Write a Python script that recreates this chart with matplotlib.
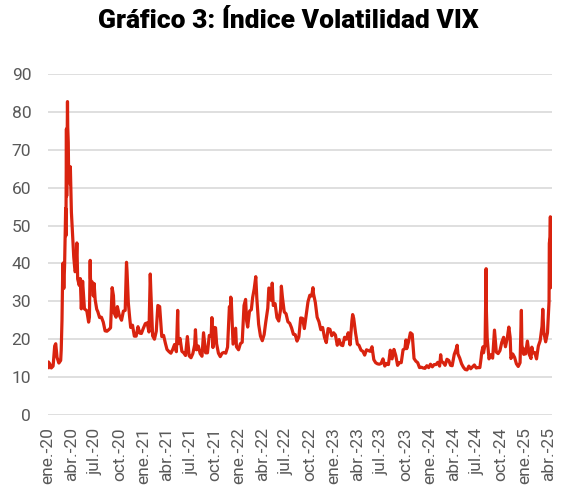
import numpy as np
import pandas as pd
import matplotlib
matplotlib.use("Agg")
import matplotlib.pyplot as plt

# VIX closes (irregular dates, spikes kept)
fechas = [
    "2020-01-02", "2020-01-03", "2020-01-08", "2020-01-14", "2020-01-21", "2020-01-27", "2020-01-31",
    "2020-02-05", "2020-02-12", "2020-02-19", "2020-02-21", "2020-02-24", "2020-02-27", "2020-02-28",
    "2020-03-02", "2020-03-05", "2020-03-09", "2020-03-10", "2020-03-12", "2020-03-13", "2020-03-16",
    "2020-03-17", "2020-03-19", "2020-03-20", "2020-03-24", "2020-03-26", "2020-03-27", "2020-03-31",
    "2020-04-02", "2020-04-06", "2020-04-09", "2020-04-14", "2020-04-17", "2020-04-21", "2020-04-24",
    "2020-04-30", "2020-05-04", "2020-05-08", "2020-05-13", "2020-05-20", "2020-05-29", "2020-06-05",
    "2020-06-08", "2020-06-11", "2020-06-12", "2020-06-16", "2020-06-19", "2020-06-23", "2020-06-26",
    "2020-06-30", "2020-07-06", "2020-07-10", "2020-07-17", "2020-07-24", "2020-07-31", "2020-08-07",
    "2020-08-14", "2020-08-21", "2020-08-28", "2020-09-03", "2020-09-08", "2020-09-11", "2020-09-18",
    "2020-09-23", "2020-09-30", "2020-10-09", "2020-10-16", "2020-10-23", "2020-10-28", "2020-10-30",
    "2020-11-04", "2020-11-09", "2020-11-13", "2020-11-20", "2020-11-27", "2020-12-04", "2020-12-11",
    "2020-12-18", "2020-12-24", "2020-12-31",
    "2021-01-08", "2021-01-15", "2021-01-22", "2021-01-27", "2021-01-29", "2021-02-05", "2021-02-12",
    "2021-02-19", "2021-02-25", "2021-03-04", "2021-03-12", "2021-03-19", "2021-03-26", "2021-04-01",
    "2021-04-09", "2021-04-16", "2021-04-23", "2021-04-30", "2021-05-07", "2021-05-12", "2021-05-14",
    "2021-05-21", "2021-05-28", "2021-06-04", "2021-06-11", "2021-06-18", "2021-06-25", "2021-07-02",
    "2021-07-09", "2021-07-16", "2021-07-19", "2021-07-23", "2021-07-30", "2021-08-06", "2021-08-13",
    "2021-08-19", "2021-08-27", "2021-09-03", "2021-09-10", "2021-09-17", "2021-09-20", "2021-09-24",
    "2021-09-30", "2021-10-04", "2021-10-08", "2021-10-15", "2021-10-22", "2021-10-29", "2021-11-05",
    "2021-11-12", "2021-11-19", "2021-11-26", "2021-11-30", "2021-12-01", "2021-12-03", "2021-12-10",
    "2021-12-17", "2021-12-20", "2021-12-23", "2021-12-31",
    "2022-01-07", "2022-01-14", "2022-01-21", "2022-01-27", "2022-01-31", "2022-02-04", "2022-02-11",
    "2022-02-18", "2022-02-23", "2022-03-01", "2022-03-07", "2022-03-11", "2022-03-18", "2022-03-25",
    "2022-04-01", "2022-04-08", "2022-04-14", "2022-04-22", "2022-04-26", "2022-04-29", "2022-05-06",
    "2022-05-09", "2022-05-13", "2022-05-20", "2022-05-27", "2022-06-03", "2022-06-10", "2022-06-13",
    "2022-06-17", "2022-06-24", "2022-07-01", "2022-07-08", "2022-07-15", "2022-07-22", "2022-07-29",
    "2022-08-05", "2022-08-12", "2022-08-19", "2022-08-26", "2022-09-02", "2022-09-09", "2022-09-16",
    "2022-09-23", "2022-09-30", "2022-10-07", "2022-10-12", "2022-10-14", "2022-10-21", "2022-10-28",
    "2022-11-04", "2022-11-11", "2022-11-18", "2022-11-25", "2022-12-02", "2022-12-09", "2022-12-16",
    "2022-12-23", "2022-12-30",
    "2023-01-06", "2023-01-13", "2023-01-20", "2023-01-27", "2023-02-03", "2023-02-10", "2023-02-17",
    "2023-02-24", "2023-03-03", "2023-03-10", "2023-03-13", "2023-03-17", "2023-03-24", "2023-03-31",
    "2023-04-06", "2023-04-14", "2023-04-21", "2023-04-28", "2023-05-05", "2023-05-12", "2023-05-19",
    "2023-05-26", "2023-06-02", "2023-06-09", "2023-06-16", "2023-06-23", "2023-06-30", "2023-07-07",
    "2023-07-14", "2023-07-21", "2023-07-28", "2023-08-04", "2023-08-11", "2023-08-18", "2023-08-25",
    "2023-09-01", "2023-09-08", "2023-09-15", "2023-09-22", "2023-09-29", "2023-10-03", "2023-10-06",
    "2023-10-13", "2023-10-20", "2023-10-27", "2023-11-03", "2023-11-10", "2023-11-17", "2023-11-24",
    "2023-12-01", "2023-12-08", "2023-12-15", "2023-12-22", "2023-12-29",
    "2024-01-05", "2024-01-12", "2024-01-19", "2024-01-26", "2024-02-02", "2024-02-09", "2024-02-13",
    "2024-02-16", "2024-02-23", "2024-03-01", "2024-03-08", "2024-03-15", "2024-03-22", "2024-03-28",
    "2024-04-05", "2024-04-12", "2024-04-16", "2024-04-19", "2024-04-26", "2024-05-03", "2024-05-10",
    "2024-05-17", "2024-05-24", "2024-05-31", "2024-06-07", "2024-06-14", "2024-06-21", "2024-06-28",
    "2024-07-05", "2024-07-12", "2024-07-17", "2024-07-19", "2024-07-24", "2024-07-26", "2024-08-01",
    "2024-08-02", "2024-08-05", "2024-08-06", "2024-08-09", "2024-08-16", "2024-08-23", "2024-08-30",
    "2024-09-06", "2024-09-13", "2024-09-20", "2024-09-27", "2024-10-04", "2024-10-11", "2024-10-18",
    "2024-10-25", "2024-10-31", "2024-11-05", "2024-11-08", "2024-11-15", "2024-11-22", "2024-11-29",
    "2024-12-06", "2024-12-13", "2024-12-18", "2024-12-20", "2024-12-27", "2024-12-31",
    "2025-01-03", "2025-01-10", "2025-01-17", "2025-01-24", "2025-01-27", "2025-01-31", "2025-02-07",
    "2025-02-14", "2025-02-21", "2025-02-28", "2025-03-07", "2025-03-10", "2025-03-14", "2025-03-21",
    "2025-03-28", "2025-04-03", "2025-04-04", "2025-04-07", "2025-04-08", "2025-04-09", "2025-04-10",
    "2025-04-11",
]
vix = [
    12.5, 14.0, 13.5, 12.4, 12.9, 18.2, 18.8,
    15.2, 13.7, 14.4, 17.1, 25.0, 39.2, 40.1,
    33.4, 39.6, 54.5, 47.3, 75.5, 57.8, 82.7,
    75.9, 72.0, 66.0, 61.7, 61.0, 65.5, 53.5,
    50.9, 45.2, 41.7, 37.8, 38.2, 45.4, 35.9,
    34.2, 36.0, 28.0, 35.3, 28.0, 27.5, 24.5,
    25.8, 40.8, 36.1, 33.7, 35.1, 31.4, 34.7,
    30.4, 27.9, 27.3, 25.7, 25.8, 24.5, 22.2,
    22.1, 22.5, 23.0, 33.6, 31.5, 26.9, 25.8,
    28.6, 26.4, 25.0, 27.4, 27.6, 40.3, 38.0,
    29.6, 25.8, 23.1, 23.7, 20.8, 20.8, 23.3,
    21.6, 21.5, 22.8,
    24.1, 24.3, 21.9, 37.2, 33.1, 20.9, 20.0,
    22.1, 28.9, 28.6, 20.7, 21.0, 18.9, 17.3,
    16.7, 16.3, 17.3, 18.6, 16.7, 27.6, 18.8,
    20.2, 16.8, 16.4, 15.7, 20.7, 15.6, 15.1,
    16.2, 18.5, 22.5, 17.2, 18.2, 16.2, 15.5,
    21.7, 16.4, 16.4, 21.0, 20.8, 25.7, 17.8,
    23.1, 23.0, 18.8, 16.3, 15.4, 16.3, 16.5,
    16.3, 17.9, 28.6, 27.2, 31.1, 30.7, 18.7,
    21.6, 22.9, 18.0, 17.2,
    18.8, 19.2, 28.9, 30.5, 24.8, 23.2, 27.4,
    27.8, 31.0, 33.3, 36.5, 30.8, 23.9, 20.8,
    19.6, 21.2, 24.4, 28.2, 33.5, 33.4, 30.2,
    34.8, 28.9, 29.4, 25.7, 24.8, 27.8, 34.0,
    31.1, 27.2, 26.7, 24.6, 24.2, 23.0, 21.3,
    21.2, 19.5, 20.6, 25.6, 25.5, 22.8, 26.3,
    29.9, 31.6, 31.4, 33.6, 32.0, 29.7, 25.8,
    24.6, 22.5, 23.1, 20.5, 19.1, 22.8, 22.6,
    20.9, 21.7,
    21.1, 18.4, 19.9, 18.5, 18.3, 20.5, 20.0,
    21.7, 18.5, 24.8, 26.5, 25.5, 21.7, 18.7,
    18.4, 17.1, 16.8, 15.8, 17.2, 17.0, 16.8,
    18.0, 14.6, 13.8, 13.5, 13.4, 13.6, 14.8,
    12.9, 13.6, 13.3, 17.1, 14.8, 17.3, 15.7,
    13.1, 13.8, 13.8, 17.2, 17.5, 19.8, 17.5,
    19.3, 21.7, 21.3, 14.9, 14.2, 13.8, 12.5,
    12.6, 12.4, 12.3, 13.0, 12.5,
    13.4, 12.7, 13.3, 13.3, 13.9, 12.9, 15.9,
    14.2, 13.8, 13.1, 14.7, 14.4, 13.1, 13.0,
    16.0, 17.3, 18.4, 16.1, 15.0, 13.5, 12.6,
    12.0, 11.9, 12.9, 12.2, 12.7, 13.2, 12.4,
    12.5, 12.5, 15.1, 16.5, 18.0, 16.4, 18.6,
    23.4, 38.6, 27.7, 20.4, 14.8, 15.9, 15.0,
    22.4, 16.6, 16.2, 17.0, 19.2, 20.5, 18.0,
    20.3, 23.2, 20.5, 14.9, 16.1, 15.2, 13.5,
    12.8, 13.8, 27.6, 18.4, 16.0, 17.4,
    16.1, 19.5, 16.0, 14.9, 17.9, 16.4, 16.5,
    14.8, 18.2, 19.6, 23.4, 27.9, 21.8, 19.3,
    21.7, 30.0, 45.3, 47.0, 52.3, 33.6, 40.7,
    37.6,
]

ticks = pd.date_range("2020-01-01", "2025-04-01", freq="QS")
meses = {1: "ene.", 4: "abr.", 7: "jul.", 10: "oct."}
tick_labels = [f"{meses[t.month]}-{t.year % 100:02d}" for t in ticks]

fechas = pd.to_datetime(fechas)
fuente = ["Roboto", "DejaVu Sans"]

fig = plt.figure(figsize=(5.77, 5.03), dpi=100)
ax = fig.add_axes([0.083, 0.175, 0.874, 0.678])

ax.plot(fechas, vix, color="#D9230F", lw=2.3, solid_joinstyle="round")

ax.set_ylim(0, 90)
ax.set_yticks(np.arange(0, 91, 10))
ax.set_xlim(pd.Timestamp("2020-01-01"), pd.Timestamp("2025-04-15"))
ax.set_xticks(ticks)
ax.set_xticklabels(tick_labels, rotation=90)

ax.grid(axis="y", color="#D9D9D9", lw=1.2)
ax.set_axisbelow(True)
for s in ax.spines.values():
    s.set_visible(False)
ax.tick_params(length=0, colors="#595959", labelsize=12.5)
ax.tick_params(axis="y", pad=12)
ax.tick_params(axis="x", pad=9)
for lab in ax.get_xticklabels() + ax.get_yticklabels():
    lab.set_family(fuente)

fig.suptitle("Gráfico 3: Índice Volatilidad VIX", x=0.5, y=0.982,
             fontsize=19, fontweight="black", family=fuente)

fig.savefig("out.png", dpi=100)
